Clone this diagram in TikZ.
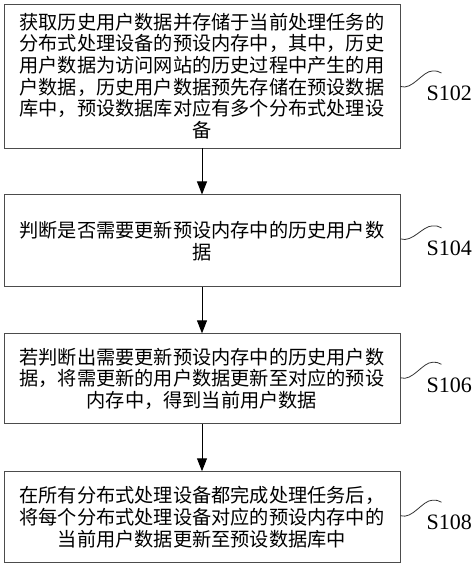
\documentclass[tikz,border=0pt]{standalone}
\usepackage{fontspec}
\newfontfamily\cjkfont{Noto Sans CJK SC}
\newfontfamily\labelfont{Liberation Serif}
\usetikzlibrary{positioning,arrows.meta}
\tikzset{%
  stepbox/.style   = {shape=rectangle, draw=black!70, line width=0.9pt,%
                      align=center, text width=380pt, inner xsep=8pt,%
                      font=\cjkfont\fontsize{19.2pt}{21.7pt}\selectfont},%
  steplabel/.style = {anchor=west, inner sep=0pt,%
                      font=\labelfont\fontsize{22pt}{22pt}\selectfont},%
  flow/.style      = {draw, line width=1pt, -{Triangle[length=13pt,width=10pt]}},%
  wave/.style      = {draw=black!80, line width=0.8pt}%
}
\begin{document}
\begin{tikzpicture}[node distance=46pt]
	\useasboundingbox (0,0) rectangle (474pt,-563pt);
	% steps
	\node [stepbox, minimum height=144pt] (s102) at (202pt,-76pt)
		{获取历史用户数据并存储于当前处理任务的\\分布式处理设备的预设内存中，其中，历史\\用户数据为访问网站的历史过程中产生的用\\户数据，历史用户数据预先存储在预设数据\\库中，预设数据库对应有多个分布式处理设\\备};
	\node [stepbox, minimum height=92pt, below=of s102] (s104)
		{判断是否需要更新预设内存中的历史用户数\\据};
	\node [stepbox, minimum height=90pt, below=of s104] (s106)
		{若判断出需要更新预设内存中的历史用户数\\据，将需更新的用户数据更新至对应的预设\\内存中，得到当前用户数据};
	\node [stepbox, minimum height=91pt, below=47pt of s106] (s108)
		{在所有分布式处理设备都完成处理任务后，\\将每个分布式处理设备对应的预设内存中的\\当前用户数据更新至预设数据库中};
	% step numbers
	\node [steplabel] (l102) at ([shift={(26pt,-17.5pt)}]s102.east) {S102};
	\node [steplabel] (l104) at ([shift={(26pt,-7.5pt)}]s104.east) {S104};
	\node [steplabel] (l106) at ([shift={(26pt,-6pt)}]s106.east) {S106};
	\node [steplabel] (l108) at ([shift={(26pt,-5.5pt)}]s108.east) {S108};
	% arrows
	\draw [flow] (s102) -- (s104);
	\draw [flow] (s104) -- (s106);
	\draw [flow] (s106) -- (s108);
	% waves
	\draw [wave] ([yshift=-10.5pt]s102.east) .. controls +(12pt,-4pt) and +(-10pt,0pt) .. ([shift={(6pt,22.5pt)}]l102.west) .. controls +(4pt,0pt) and +(-3pt,2pt) .. ([shift={(15pt,20.5pt)}]l102.west);
	\draw [wave] ([yshift=2pt]s104.east) .. controls +(12pt,-4pt) and +(-10pt,0pt) .. ([shift={(6pt,22.5pt)}]l104.west) .. controls +(4pt,0pt) and +(-3pt,2pt) .. ([shift={(15pt,20.5pt)}]l104.west);
	\draw [wave] ([yshift=1pt]s106.east) .. controls +(12pt,-4pt) and +(-10pt,0pt) .. ([shift={(6pt,22.5pt)}]l106.west) .. controls +(4pt,0pt) and +(-3pt,2pt) .. ([shift={(15pt,20.5pt)}]l106.west);
	\draw [wave] ([yshift=1.5pt]s108.east) .. controls +(12pt,-4pt) and +(-10pt,0pt) .. ([shift={(6pt,22.5pt)}]l108.west) .. controls +(4pt,0pt) and +(-3pt,2pt) .. ([shift={(15pt,20.5pt)}]l108.west);
\end{tikzpicture}
\end{document}
